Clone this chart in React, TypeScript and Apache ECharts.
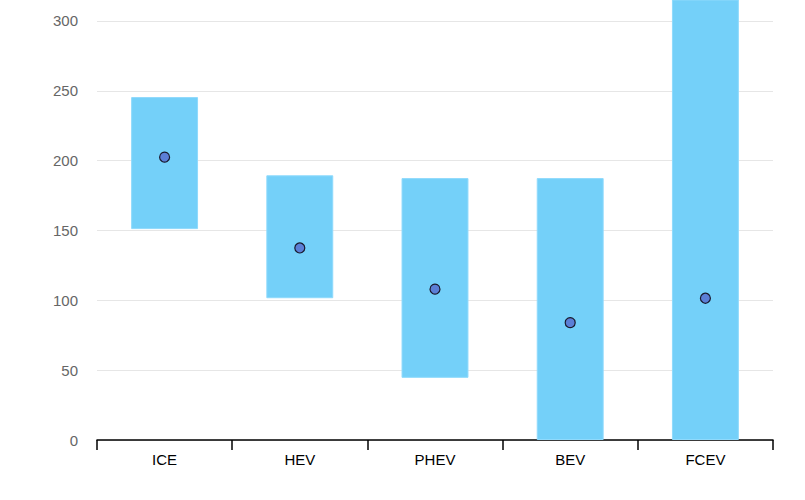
import * as echarts from 'echarts';
import React, { useEffect, useRef } from 'react';

const categories = ['ICE', 'HEV', 'PHEV', 'BEV', 'FCEV'];
const lows = [151, 101.5, 44.5, 0, 0];
const highs = [245.5, 189.5, 187.5, 187.5, 330];
const mids = [202.5, 137.5, 108, 84, 101.5];

export default function App() {
  const chartRef = useRef<HTMLDivElement>(null);

  useEffect(() => {
    const chart = echarts.init(chartRef.current, null, { renderer: 'svg' });
    const ranges = highs.map((h, i) => h - lows[i]);

    chart.setOption({
      animation: false,
      grid: { left: 97, right: 32, top: 0, bottom: 60 },
      xAxis: {
        type: 'category',
        data: categories,
        axisLine: { lineStyle: { color: '#000', width: 1.5 } },
        axisTick: { show: true, length: 10, lineStyle: { color: '#000', width: 1.5 } },
        axisLabel: { color: '#000', fontSize: 15, margin: 12, fontFamily: 'Liberation Sans' },
      },
      yAxis: {
        type: 'value',
        min: 0,
        max: 315,
        interval: 50,
        axisLine: { show: false },
        axisTick: { show: false },
        axisLabel: {
          showMaxLabel: false,
          color: '#666',
          fontSize: 15,
          margin: 19,
          fontFamily: 'Liberation Sans',
        },
        splitLine: { showMaxLine: false, lineStyle: { color: '#e6e6e6', width: 1 } },
      },
      series: [
        {
          type: 'bar',
          stack: 'range',
          data: lows,
          barWidth: '49.5%',
          itemStyle: { color: 'transparent' },
          silent: true,
        },
        {
          type: 'bar',
          stack: 'range',
          data: ranges,
          itemStyle: { color: '#74D0F9', borderColor: '#8fdafc', borderWidth: 1 },
        },
        {
          type: 'scatter',
          data: mids,
          symbolSize: 10,
          itemStyle: { color: '#5b7fd6', borderColor: '#1a1a2e', borderWidth: 1.2, opacity: 1 },
          z: 5,
        },
      ],
    });

    return () => {
      chart.dispose();
    };
  }, []);

  return (
    <div
      ref={chartRef}
      style={{ position: 'absolute', left: 0, top: 0, width: 805, height: 500 }}
    />
  );
}
